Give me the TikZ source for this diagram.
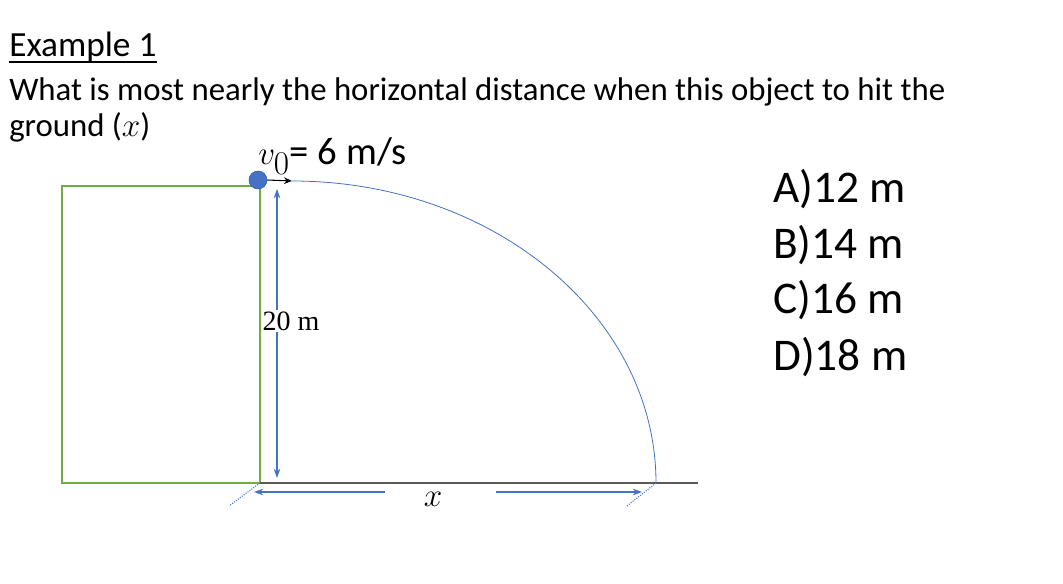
\documentclass[tikz,border=0pt]{standalone}
\usepackage{fontspec}
\setmainfont{Carlito}
\newfontfamily\tnr{Liberation Serif}
\usetikzlibrary{arrows.meta}
\definecolor{pgreen}{HTML}{70AD47}
\definecolor{pblue}{HTML}{4472C4}
\begin{document}
\begin{tikzpicture}[x=0.75pt,y=-0.75pt,
  txt/.style={inner sep=0pt,anchor=base west},
  dim/.style={pblue,line width=0.9pt,-{Stealth[length=7pt,width=5pt]}},
  ans/.style={inner sep=0pt,anchor=base west,font=\fontsize{34}{40}\selectfont}]
\useasboundingbox (0,0) rectangle (1063,584);
% title
\node[txt,font=\fontsize{26.5}{30}\selectfont] (title) at (9,57) {Example 1};
\draw[line width=1.3pt] (title.south west |- 0,62) -- (title.south east |- 0,62);
\node[txt,font=\fontsize{24.6}{28}\selectfont] (q1) at (9,101) {What is most nearly the horizontal distance when this object to hit the};
\node[txt,font=\fontsize{24.6}{28}\selectfont] (q2) at (9,137) {ground ({\fontsize{27}{30}\selectfont$x$})};
% velocity label
\node[txt,font=\fontsize{29}{32}\selectfont] (v) at (258,165) {{\fontsize{33}{36}\selectfont$v_0$}= 6 m/s};
% building
\draw[pgreen,line width=1.5pt] (62,186) rectangle (260,483);
% ground
\coordinate (g0) at (260,483);
\coordinate (g1) at (698,483);
\draw[black!65,line width=1.2pt] (g0) -- (g1);
% trajectory
\coordinate (s) at (292,181);
\coordinate (e) at (656,483);
\draw[pblue,line width=0.6pt] (s) .. controls (493,181) and (656,316) .. (e);
% ball and velocity arrow
\node[circle,fill=pblue,draw=pblue!80!black,minimum size=13.5pt,inner sep=0pt] (ball) at (258,180) {};
\draw[black,line width=0.8pt,-{Stealth[length=6pt,width=5pt]}] (ball.east) -- (s);
% vertical dimension
\coordinate (vt) at (277,189);
\coordinate (vb) at (277,478);
\node[font=\tnr\fontsize{21}{24}\selectfont,fill=white,inner sep=1pt] (h) at (291,321) {20 m};
\draw[dim] (h.north -| vt) -- (vt);
\draw[dim] (h.south -| vt) -- (vb);
% horizontal dimension
\coordinate (hl) at (254,492);
\coordinate (hr) at (642,492);
\node[font=\fontsize{31}{34}\selectfont,inner sep=0pt] (xl) at (433,499) {$x$};
\draw[dim] (385,492) -- (hl);
\draw[dim] (496,492) -- (hr);
% dotted extension lines
\draw[pblue,densely dotted,line width=0.8pt] (g0) -- (229,506);
\draw[pblue,densely dotted,line width=0.8pt] (e) -- (627,506);
% answers
\node[ans] (a) at (773,203) {A)12 m};
\node[ans] (b) at (773,259) {B)14 m};
\node[ans] (c) at (773,314) {C)16 m};
\node[ans] (d) at (773,370) {D)18 m};
\end{tikzpicture}
\end{document}
